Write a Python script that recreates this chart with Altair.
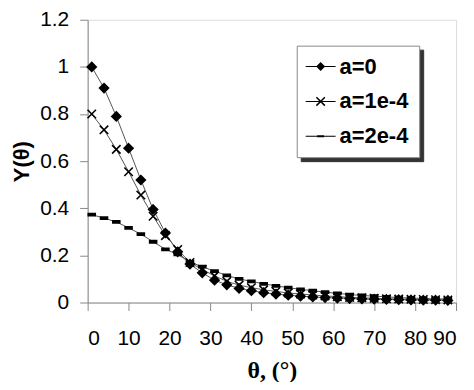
import altair as alt
import pandas as pd

theta = [1, 4, 7, 10, 13, 16, 19, 22, 25, 28, 31, 34, 37, 40, 43,
         46, 49, 52, 55, 58, 61, 64, 67, 70, 73, 76, 79, 82, 85, 88]
y_a0 = [1.0, 0.91, 0.79, 0.655, 0.52, 0.395, 0.295, 0.215, 0.163, 0.126,
        0.095, 0.075, 0.06, 0.05, 0.042, 0.036, 0.031, 0.027, 0.024, 0.021,
        0.019, 0.017, 0.015, 0.014, 0.013, 0.012, 0.011, 0.01, 0.01, 0.009]
y_a1 = [0.8, 0.733, 0.65, 0.555, 0.456, 0.366, 0.284, 0.225, 0.17, 0.14,
        0.113, 0.09, 0.074, 0.063, 0.054, 0.047, 0.041, 0.036, 0.032, 0.028,
        0.025, 0.022, 0.02, 0.018, 0.016, 0.015, 0.014, 0.013, 0.012, 0.011]
y_a2 = [0.373, 0.358, 0.342, 0.317, 0.29, 0.258, 0.226, 0.204, 0.172, 0.152,
        0.133, 0.115, 0.1, 0.09, 0.079, 0.071, 0.063, 0.056, 0.05, 0.044,
        0.039, 0.034, 0.03, 0.027, 0.024, 0.021, 0.019, 0.017, 0.016, 0.015]
series_names = ["a=0", "a=1e-4", "a=2e-4"]
x_ticks = [0, 10, 20, 30, 40, 50, 60, 70, 80, 90]
y_ticks = [0, 0.2, 0.4, 0.6, 0.8, 1.0, 1.2]

rows = []
for name, ys in zip(series_names, [y_a0, y_a1, y_a2]):
    for t, v in zip(theta, ys):
        rows.append({"theta": t, "Y": v, "series": name})
df = pd.DataFrame(rows)

# marker shapes for the data points
marker_paths = [
    "M0,-0.9L0.9,0L0,0.9L-0.9,0Z",
    "M-0.85,-0.85L0.85,0.85M-0.85,0.85L0.85,-0.85",
    "M-0.7,-0.22H0.7V0.22H-0.7Z",
]
# legend symbols: filled outlines (line segment + marker)
seg = "M-3,-0.1H3V0.1H-3Z"
x_fill = ("M-0.744,-0.956L0.956,0.744L0.744,0.956L-0.956,-0.744Z"
          "M-0.744,0.956L-0.956,0.744L0.744,-0.956L0.956,-0.744Z")
legend_paths = [seg + marker_paths[0], seg + x_fill, seg + marker_paths[2]]

FONT = "Liberation Sans"

x_enc = alt.X("theta:Q", scale=alt.Scale(domain=[0, 90], nice=False),
              axis=alt.Axis(values=x_ticks, title="θ, (°)", grid=False,
                            tickSize=8, labelPadding=17,
                            titleFont="Liberation Serif", titleFontSize=24,
                            titleFontWeight="bold", titlePadding=10,
                            labelFontSize=21))
y_enc = alt.Y("Y:Q", scale=alt.Scale(domain=[0, 1.2], nice=False),
              axis=alt.Axis(values=y_ticks, format="~g", title="Y(θ)",
                            grid=False, tickSize=8, labelPadding=11,
                            titleFontSize=22, titleFontWeight="bold",
                            titleX=-54, labelFontSize=21))

lines = alt.Chart(df).mark_line(color="#555555", strokeWidth=1).encode(
    x=x_enc, y=y_enc, detail="series:N")

points = alt.Chart(df).mark_point(
    filled=True, fill="black", stroke="black", strokeWidth=1.6, size=100, opacity=1
).encode(
    x=x_enc, y=y_enc,
    shape=alt.Shape("series:N", scale=alt.Scale(domain=series_names, range=marker_paths),
                    legend=None))

common_legend = dict(title=None, orient="none", padding=10, symbolOffset=3,
                     labelOffset=8, rowPadding=13, symbolSize=100,
                     labelFontSize=22, labelFontWeight="bold", labelFont=FONT)

legend_layer = alt.Chart(df).transform_filter(
    alt.datum.theta < 0
).mark_point(
    filled=True, fill="black", size=100, opacity=1
).encode(
    x=x_enc, y=y_enc,
    shape=alt.Shape("series:N",
                    scale=alt.Scale(domain=series_names, range=legend_paths),
                    legend=alt.Legend(legendX=210, legendY=26, zindex=2,
                                      symbolFillColor="black", labelColor="black",
                                      strokeColor="#888888", fillColor="white",
                                      **common_legend)))

# drop shadow behind the legend box (same-size box, hidden contents)
shadow_layer = alt.Chart(df).transform_filter(
    alt.datum.theta < 0
).mark_point(
    filled=True, fill="black", size=100, opacity=1
).encode(
    x=x_enc, y=y_enc,
    shape=alt.Shape("series:N",
                    scale=alt.Scale(domain=series_names, range=legend_paths),
                    legend=alt.Legend(legendX=214, legendY=30, zindex=1,
                                      symbolOpacity=0, labelOpacity=0,
                                      strokeColor="#333333", fillColor="#333333",
                                      **common_legend)))

chart = alt.layer(lines, points, shadow_layer, legend_layer).resolve_scale(
    shape="independent"
).properties(
    width=370, height=284,
    autosize=alt.AutoSizeParams(type="none"),
    padding={"left": 80, "top": 11, "right": 10, "bottom": 79},
).configure_view(
    stroke="black", strokeWidth=1.5
).configure_axis(
    domainColor="black", domainWidth=1.5, tickColor="#777777", tickWidth=1,
    labelFont=FONT, titleFont=FONT, labelColor="black", titleColor="black",
).configure(background="white")

chart.save("out.html", embed_options={"renderer": "svg", "actions": False})
